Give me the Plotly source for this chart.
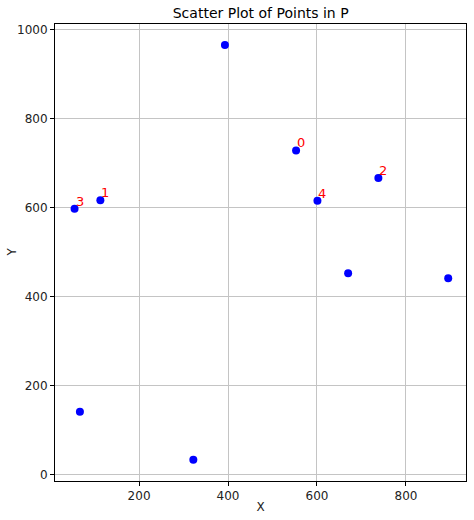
import plotly.graph_objects as go

# points in P (the first five are labelled with their index)
xs = [553, 113, 738, 55, 601, 393, 670, 895, 67, 322]
ys = [729, 617, 667, 598, 616, 966, 453, 442, 142, 34]
labels = ["0", "1", "2", "3", "4"]

font = "DejaVu Sans"

fig = go.Figure()
fig.add_trace(go.Scatter(x=xs, y=ys, mode="markers",
                         marker=dict(color="blue", size=8, line=dict(width=0)),
                         showlegend=False))

for i, lab in enumerate(labels):
    fig.add_annotation(x=xs[i], y=ys[i], text=lab, showarrow=False,
                       xanchor="left", yanchor="bottom", xshift=-1, yshift=-2,
                       font=dict(family=font, size=13, color="red"))

# y axis title, placed by hand so it sits where the reference has it
fig.add_annotation(text="Y", xref="paper", yref="paper", x=-0.107, y=0.5,
                   xanchor="center", yanchor="middle", textangle=-90, showarrow=False,
                   font=dict(family=font, size=12, color="#222"))

axis = dict(showgrid=True, gridcolor="#c4c4c4", gridwidth=0.8,
            showline=True, linecolor="black", linewidth=1, mirror=True,
            ticks="outside", ticklen=4, tickcolor="black", tickwidth=0.8,
            zeroline=False, tickfont=dict(family=font, size=12, color="#222"),
            dtick=200, automargin=False)

fig.update_layout(
    width=474, height=520,
    margin=dict(l=55, r=8, t=24, b=39),
    plot_bgcolor="white", paper_bgcolor="white",
    title=dict(text="Scatter Plot of Points in P", x=0.55, xanchor="center",
               y=0.975, yanchor="middle",
               font=dict(family=font, size=14, color="black")),
    xaxis=dict(axis, range=[11, 935],
               title=dict(text="X", font=dict(family=font, size=12, color="#222"), standoff=0)),
    yaxis=dict(axis, range=[-13.5, 1013]),
)

# the page body has an 8px margin by default; drop it so the figure fills the window
fig.write_html("out.html", config={"displayModeBar": False},
               post_script="document.body.style.margin='0';")
